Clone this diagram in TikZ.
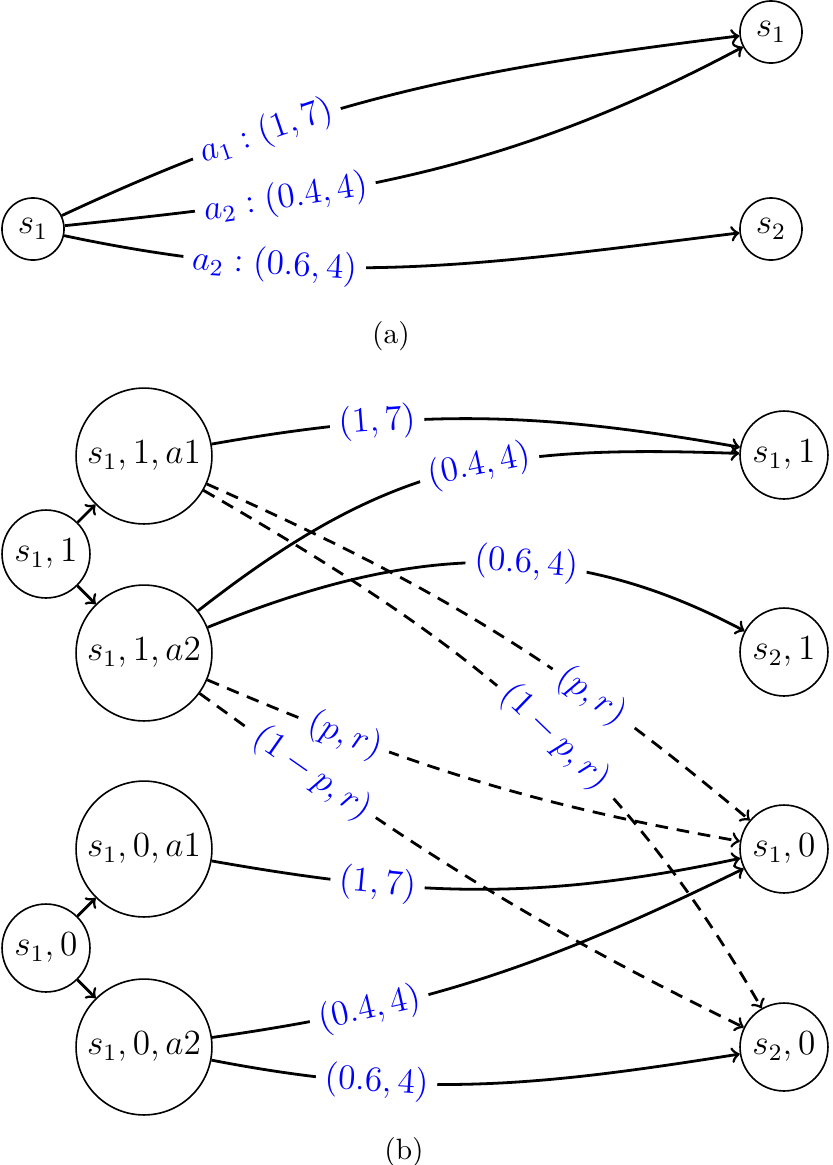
\documentclass[tikz,border=0pt]{standalone}
\begin{document}
\begin{tikzpicture}[x=0.34pt,y=0.34pt,
  st/.style={circle,draw,line width=0.55pt,inner sep=0pt,font=\large},
  sa/.style={st,minimum size=21.1pt},
  sb/.style={st,minimum size=46.2pt},
  sc/.style={st,minimum size=29.9pt},
  ed/.style={->,line width=0.95pt},
  dd/.style={ed,dash pattern=on 4.3pt off 3pt},
  lb/.style={sloped,fill=white,text=blue,inner sep=3pt,font=\large},
  captxt/.style={font=\normalsize}]
\useasboundingbox (0,0) rectangle (833,-1165);
% (a)
\node[sa] (A0) at (33,-229) {$s_1$};
\node[sa] (A1) at (771,-32) {$s_1$};
\node[sa] (A2) at (771,-229) {$s_2$};
\draw[ed] (A0) to[out=25,in=187] node[lb,pos=0.3]{$a_1:(1,7)$} (A1);
\draw[ed] (A0) to[out=6,in=208] node[lb,pos=0.3]{$a_2:(0.4,4)$} (A1);
\draw[ed] (A0) to[out=-12,in=187] node[lb,pos=0.3]{$a_2:(0.6,4)$} (A2);
\node[captxt] (capa) at (391,-336) {(a)};
% (b)
\node[sc] (B1) at (46,-554) {$s_1,1$};
\node[sb] (B1a1) at (144,-456) {$s_1,1,a1$};
\node[sb] (B1a2) at (144,-653) {$s_1,1,a2$};
\node[sc] (R11) at (784,-455) {$s_1,1$};
\node[sc] (R21) at (784,-652) {$s_2,1$};
\node[sb] (B0a1) at (144,-849) {$s_1,0,a1$};
\node[sc] (B0) at (46,-948) {$s_1,0$};
\node[sb] (B0a2) at (144,-1047) {$s_1,0,a2$};
\node[sc] (R10) at (784,-849) {$s_1,0$};
\node[sc] (R20) at (784,-1047) {$s_2,0$};
\draw[ed] (B1) -- (B1a1);
\draw[ed] (B1) -- (B1a2);
\draw[ed] (B0) -- (B0a1);
\draw[ed] (B0) -- (B0a2);
\draw[ed] (B1a1) to[out=10,in=170] node[lb,pos=0.3]{$(1,7)$} (R11);
\draw[ed] (B1a2) to[out=38,in=178,looseness=1.1] node[lb,pos=0.56]{$(0.4,4)$} (R11);
\draw[ed] (B1a2) to[out=22,in=152] node[lb,pos=0.59]{$(0.6,4)$} (R21);
\draw[dd] (B1a1) to[out=-24,in=140] node[lb,pos=0.7]{$(p,r)$} (R10);
\draw[dd] (B1a1) to[out=-30,in=120] node[lb,pos=0.56]{$(1-p,r)$} (R20);
\draw[dd] (B1a2) to[out=-36,in=154] node[lb,pos=0.2]{$(1-p,r)$} (R20);
\draw[dd] (B1a2) to[out=-23,in=170] node[lb,pos=0.25]{$(p,r)$} (R10);
\draw[ed] (B0a1) to[out=-10,in=192] node[lb,pos=0.3]{$(1,7)$} (R10);
\draw[ed] (B0a2) to[out=8,in=206] node[lb,pos=0.27]{$(0.4,4)$} (R10);
\draw[ed] (B0a2) to[out=-11,in=189] node[lb,pos=0.3]{$(0.6,4)$} (R20);
\node[captxt] (capb) at (404,-1152) {(b)};
\end{tikzpicture}
\end{document}
